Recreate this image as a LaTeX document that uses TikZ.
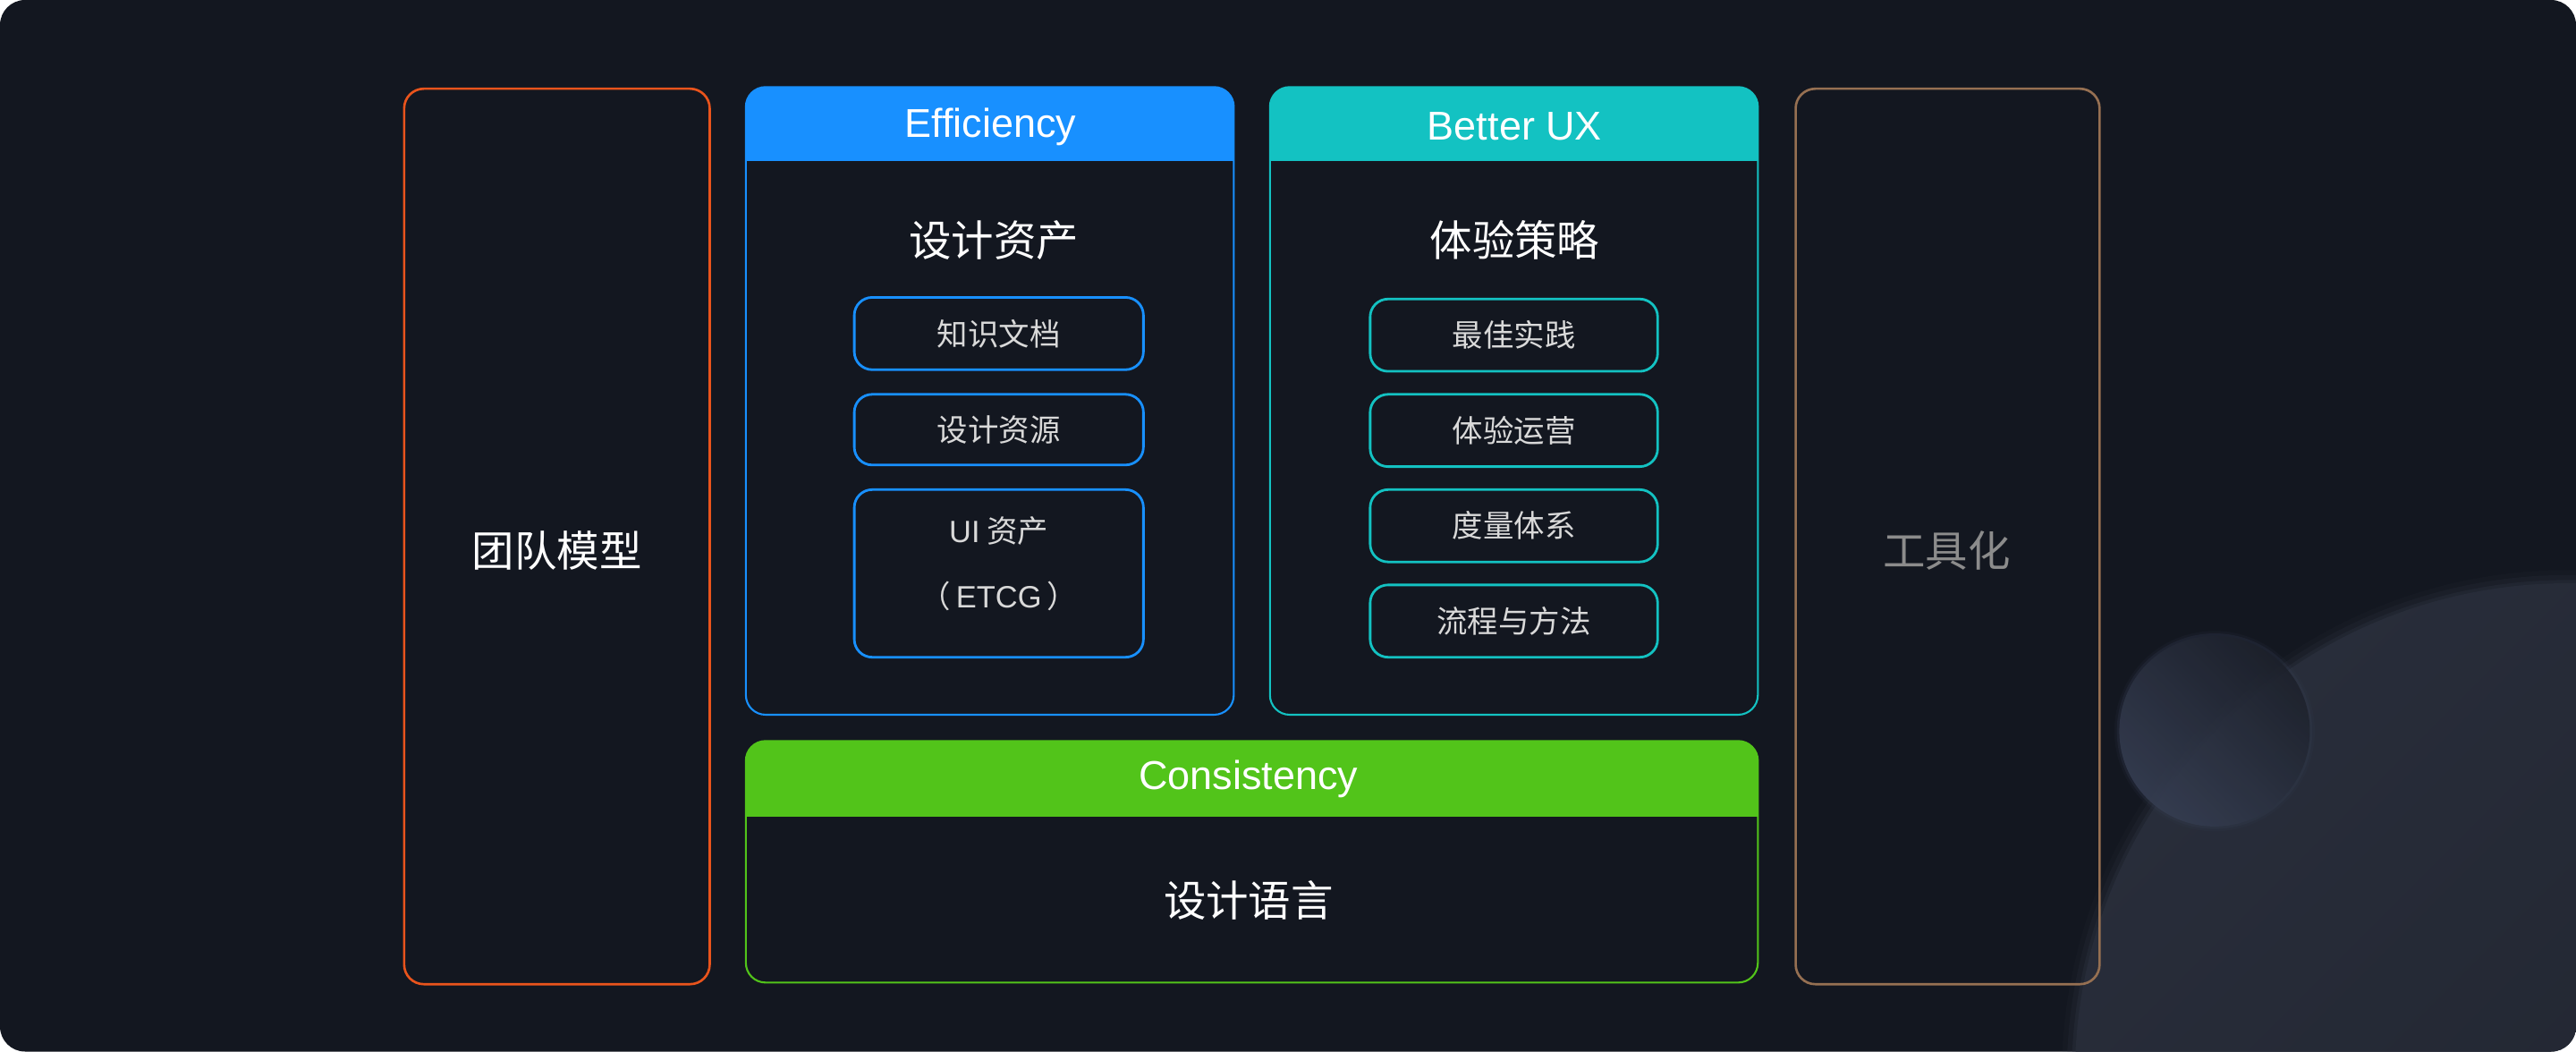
\documentclass[tikz,border=0pt]{standalone}
\usepackage{fontspec}
\setmainfont{Noto Sans CJK SC}
\newfontfamily\latinfont{Liberation Sans}
\definecolor{bgdark}{RGB}{19,23,32}
\definecolor{effblue}{RGB}{24,144,255}
\definecolor{uxteal}{RGB}{19,194,194}
\definecolor{congreen}{RGB}{82,196,26}
\definecolor{teamorange}{RGB}{233,84,28}
\definecolor{toolbrown}{RGB}{150,112,82}
\definecolor{subgray}{RGB}{217,217,217}
\definecolor{toolgray}{RGB}{140,140,140}
\definecolor{bigtop}{RGB}{40,45,58}
\definecolor{bigbot}{RGB}{31,35,45}
\definecolor{smalllight}{RGB}{54,62,82}
\definecolor{smalldark}{RGB}{28,32,42}
\tikzset{
  panel/.style={line width=0.6pt, rounded corners=2.2mm},
  tallbox/.style={line width=0.75pt, rounded corners=2.2mm},
  subbox/.style={line width=0.8pt, rounded corners=2mm},
  headtext/.style={white, font=\latinfont\fontsize{12.8}{15}\selectfont},
  bigtext/.style={white, font=\fontsize{13.5}{16}\selectfont},
  subtext/.style={subgray, font=\fontsize{9.8}{20.9}\selectfont, align=center}
}
\begin{document}
\begin{tikzpicture}[x=0.18367mm,y=-0.18367mm]
  \useasboundingbox (0,0) rectangle (1568,640);
  \fill[white] (0,0) rectangle (1568,640);
  \fill[bgdark, rounded corners=2.8mm] (0,0) rectangle (1568,640);

  % circles in the corner
  \begin{scope}
    \clip[rounded corners=2.8mm] (0,0) rectangle (1568,640);
    \foreach \r/\o in {308/0.15, 305/0.3, 302/0.5} \fill[bigtop, opacity=\o] (1563,655) circle (\r);
    \shade[top color=bigtop, bottom color=bigbot, shading angle=45] (1563,655) circle (300);
    \foreach \r/\o in {61/0.12, 59.5/0.25} \fill[smalllight, opacity=\o] (1348,445) circle (\r);
    \shade[top color=smalllight, bottom color=smalldark, shading angle=135, opacity=0.85] (1348,445) circle (58);
  \end{scope}

  % left and right columns
  \draw[teamorange, tallbox] (246,54) rectangle (432,599);
  \node[bigtext] (team) at (339,335) {团队模型};
  \draw[toolbrown, tallbox] (1093,54) rectangle (1278,599);
  \node[bigtext, toolgray] (tool) at (1185,335) {工具化};

  % Efficiency
  \draw[effblue, panel] (454,53) rectangle (751,435);
  \fill[effblue] (454,98) [rounded corners=2.2mm] -- (454,53) -- (751,53) [sharp corners] -- (751,98) -- cycle;
  \node[headtext] (eff) at (603,77) {Efficiency};
  \node[bigtext] (asset) at (605,146) {设计资产};
  \draw[effblue, subbox] (520,181) rectangle (696,225);
  \node[subtext] (doc) at (608,203) {知识文档};
  \draw[effblue, subbox] (520,240) rectangle (696,283);
  \node[subtext] (res) at (608,261.5) {设计资源};
  \draw[effblue, subbox] (520,298) rectangle (696,400);
  \node[subtext] (ui) at (608,343) {{\latinfont UI} 资产\\（\,{\latinfont ETCG}\,）};

  % Better UX
  \draw[uxteal, panel] (773,53) rectangle (1070,435);
  \fill[uxteal] (773,98) [rounded corners=2.2mm] -- (773,53) -- (1070,53) [sharp corners] -- (1070,98) -- cycle;
  \node[headtext] (ux) at (922,77) {Better UX};
  \node[bigtext] (strategy) at (922,146) {体验策略};
  \foreach \y/\name/\txt in {182/best/最佳实践, 240/ops/体验运营, 298/metric/度量体系, 356/flow/流程与方法} {
    \draw[uxteal, subbox] (834,\y) rectangle (1009,\y+44);
    \node[subtext] (\name) at (921.5,\y+22) {\txt};
  }

  % Consistency
  \draw[congreen, panel] (454,451) rectangle (1070,598);
  \fill[congreen] (454,497) [rounded corners=2.2mm] -- (454,451) -- (1070,451) [sharp corners] -- (1070,497) -- cycle;
  \node[headtext] (cons) at (760,474) {Consistency};
  \node[bigtext] (lang) at (760,548) {设计语言};
\end{tikzpicture}
\end{document}
